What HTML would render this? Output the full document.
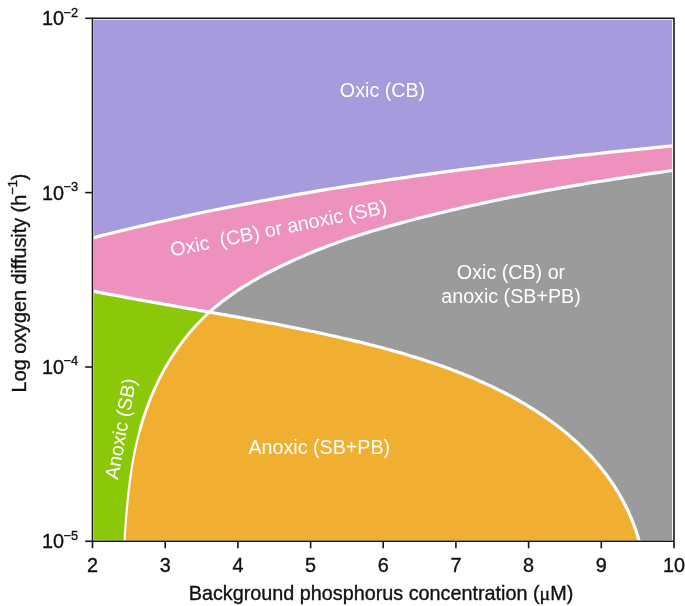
<!DOCTYPE html>
<html><head><meta charset="utf-8"><title>Phase diagram</title>
<style>
html,body{margin:0;padding:0;background:#fff;}
body{width:685px;height:606px;overflow:hidden;}
svg{display:block;font-family:"Liberation Sans",sans-serif;}
.ax{font-size:19.8px;fill:#111;stroke:#111;stroke-width:0.35px;}
.sup{font-size:12.8px;}
.lab{font-size:19.7px;fill:#fff;}
</style></head><body>
<svg width="685" height="606" viewBox="0 0 685 606">
<defs><clipPath id="cp"><rect x="94.0" y="19.4" width="578.3" height="520.9"/></clipPath></defs>
<rect width="685" height="606" fill="#fff"/>
<g clip-path="url(#cp)">
<rect x="94.0" y="19.4" width="578.3" height="520.9" fill="#fff"/>
<path d="M94.0,19.4 L672.3,19.4 L672.3,145.9 L672.5,145.9 665.1,146.6 657.7,147.4 650.3,148.1 642.9,148.9 635.5,149.6 628.1,150.4 620.7,151.2 613.3,151.9 605.9,152.7 598.5,153.5 591.1,154.3 583.7,155.1 576.3,155.9 568.9,156.8 561.5,157.6 554.1,158.4 546.7,159.3 539.3,160.1 532.0,161.0 524.6,161.9 517.2,162.8 509.8,163.6 502.4,164.5 495.0,165.5 487.6,166.4 480.2,167.3 472.9,168.3 465.5,169.2 458.1,170.2 450.7,171.1 443.3,172.1 436.0,173.1 428.6,174.1 421.2,175.2 413.8,176.2 406.5,177.3 399.1,178.3 391.7,179.4 384.4,180.5 377.0,181.6 369.7,182.7 362.3,183.8 355.0,185.0 347.6,186.1 340.3,187.3 332.9,188.5 325.6,189.7 318.2,190.9 310.9,192.2 303.6,193.4 296.2,194.7 288.9,196.0 281.6,197.3 274.3,198.6 267.0,200.0 259.6,201.3 252.3,202.7 245.0,204.1 237.7,205.5 230.4,206.9 223.1,208.4 215.8,209.8 208.5,211.3 201.3,212.8 194.0,214.3 186.7,215.9 179.4,217.5 172.2,219.0 164.9,220.7 157.6,222.3 150.4,223.9 143.1,225.6 135.9,227.3 128.6,229.0 121.4,230.7 114.2,232.5 106.9,234.3 99.7,236.1 92.5,237.9 L94.0,237.9 Z" fill="#a59bdd"/>
<path d="M92.5,237.9 99.7,236.1 106.9,234.3 114.2,232.5 121.4,230.7 128.6,229.0 135.9,227.3 143.1,225.6 150.4,223.9 157.6,222.3 164.9,220.7 172.2,219.0 179.4,217.5 186.7,215.9 194.0,214.3 201.3,212.8 208.5,211.3 215.8,209.8 223.1,208.4 230.4,206.9 237.7,205.5 245.0,204.1 252.3,202.7 259.6,201.3 267.0,200.0 274.3,198.6 281.6,197.3 288.9,196.0 296.2,194.7 303.6,193.4 310.9,192.2 318.2,190.9 325.6,189.7 332.9,188.5 340.3,187.3 347.6,186.1 355.0,185.0 362.3,183.8 369.7,182.7 377.0,181.6 384.4,180.5 391.7,179.4 399.1,178.3 406.5,177.3 413.8,176.2 421.2,175.2 428.6,174.1 436.0,173.1 443.3,172.1 450.7,171.1 458.1,170.2 465.5,169.2 472.9,168.3 480.2,167.3 487.6,166.4 495.0,165.5 502.4,164.5 509.8,163.6 517.2,162.8 524.6,161.9 532.0,161.0 539.3,160.1 546.7,159.3 554.1,158.4 561.5,157.6 568.9,156.8 576.3,155.9 583.7,155.1 591.1,154.3 598.5,153.5 605.9,152.7 613.3,151.9 620.7,151.2 628.1,150.4 635.5,149.6 642.9,148.9 650.3,148.1 657.7,147.4 665.1,146.6 672.5,145.9 L672.4,170.5 668.8,171.0 665.1,171.5 661.4,172.1 657.7,172.6 654.1,173.1 650.4,173.7 646.7,174.2 643.0,174.7 639.4,175.3 635.7,175.8 632.0,176.4 628.3,176.9 624.6,177.5 621.0,178.1 617.3,178.6 613.6,179.2 609.9,179.8 606.3,180.4 602.6,181.0 598.9,181.5 595.2,182.1 591.5,182.7 587.9,183.3 584.2,184.0 580.5,184.6 576.8,185.2 573.2,185.8 569.5,186.4 565.8,187.1 562.1,187.7 558.5,188.4 554.8,189.0 551.1,189.7 547.4,190.4 543.8,191.0 540.1,191.7 536.4,192.4 532.8,193.1 529.1,193.8 525.4,194.5 521.8,195.2 518.1,195.9 514.5,196.6 510.8,197.3 507.1,198.1 503.5,198.8 499.8,199.6 496.2,200.3 492.5,201.1 488.9,201.8 485.3,202.6 481.6,203.4 478.0,204.2 474.3,205.0 470.7,205.8 467.1,206.6 463.4,207.4 459.8,208.2 456.2,209.1 452.5,209.9 448.9,210.8 445.3,211.6 441.7,212.5 438.1,213.4 434.4,214.3 430.8,215.2 427.2,216.1 423.6,217.0 420.0,217.9 416.4,218.8 412.8,219.8 409.2,220.7 405.6,221.7 402.1,222.6 398.5,223.6 394.9,224.6 391.3,225.6 387.7,226.6 384.2,227.6 380.6,228.6 377.1,229.7 373.5,230.7 369.9,231.8 366.4,232.9 362.9,234.0 359.3,235.1 355.8,236.3 352.3,237.4 348.7,238.6 345.2,239.8 341.7,241.0 338.2,242.2 334.7,243.5 331.2,244.8 327.7,246.1 324.3,247.4 320.8,248.8 317.3,250.1 313.9,251.5 310.4,253.0 307.0,254.4 303.5,255.9 300.1,257.4 296.7,258.9 293.3,260.4 289.9,262.0 286.5,263.6 283.1,265.2 279.7,266.8 276.3,268.5 273.0,270.2 269.6,271.9 266.3,273.7 263.0,275.4 259.7,277.2 256.4,279.1 253.1,280.9 249.9,282.8 246.7,284.8 243.5,286.7 240.4,288.7 237.2,290.8 234.1,292.9 231.1,295.0 228.0,297.2 225.0,299.4 222.1,301.6 219.2,303.9 216.3,306.2 213.4,308.6 210.7,311.1 L208.3,311.9 205.2,311.4 202.1,310.8 199.0,310.3 195.9,309.7 192.7,309.2 189.6,308.7 186.5,308.1 183.4,307.6 180.3,307.0 177.1,306.5 174.0,305.9 170.9,305.4 167.8,304.8 164.6,304.3 161.5,303.7 158.4,303.2 155.3,302.6 152.1,302.1 149.0,301.5 145.9,301.0 142.7,300.4 139.6,299.8 136.5,299.3 133.4,298.7 130.2,298.1 127.1,297.6 124.0,297.0 120.8,296.4 117.7,295.8 114.6,295.2 111.4,294.7 108.3,294.1 105.1,293.5 102.0,292.9 98.9,292.3 95.7,291.6 92.6,291.0 Z" fill="#ee91be"/>
<path d="M92.6,291.0 95.7,291.6 98.9,292.3 102.0,292.9 105.1,293.5 108.3,294.1 111.4,294.7 114.6,295.2 117.7,295.8 120.8,296.4 124.0,297.0 127.1,297.6 130.2,298.1 133.4,298.7 136.5,299.3 139.6,299.8 142.7,300.4 145.9,301.0 149.0,301.5 152.1,302.1 155.3,302.6 158.4,303.2 161.5,303.7 164.6,304.3 167.8,304.8 170.9,305.4 174.0,305.9 177.1,306.5 180.3,307.0 183.4,307.6 186.5,308.1 189.6,308.7 192.7,309.2 195.9,309.7 199.0,310.3 202.1,310.8 205.2,311.4 208.3,311.9 L210.7,311.1 207.9,313.5 205.2,316.1 202.6,318.6 200.0,321.3 197.4,323.9 194.9,326.7 192.5,329.4 190.0,332.2 187.7,335.0 185.4,337.9 183.1,340.8 180.9,343.8 178.7,346.8 176.6,349.8 174.5,352.9 172.4,356.0 170.5,359.1 168.5,362.3 166.6,365.5 164.8,368.7 163.0,372.0 161.2,375.3 159.5,378.6 157.9,381.9 156.3,385.3 154.7,388.7 153.2,392.1 151.7,395.5 150.3,399.0 148.9,402.4 147.6,405.9 146.3,409.4 145.1,413.0 143.9,416.5 142.8,420.1 141.7,423.6 140.7,427.2 139.7,430.8 138.7,434.4 137.8,438.0 136.9,441.7 136.1,445.3 135.3,448.9 134.5,452.6 133.8,456.3 133.2,459.9 132.5,463.6 131.9,467.3 131.3,471.0 130.8,474.7 130.2,478.4 129.7,482.1 129.3,485.8 128.8,489.5 128.4,493.2 128.0,496.9 127.6,500.6 127.3,504.3 126.9,508.0 126.6,511.7 126.3,515.5 126.0,519.2 125.7,522.8 125.5,526.5 125.2,530.2 125.0,533.9 124.8,537.6 124.6,541.3 L94.0,540.3 Z" fill="#8cc80a"/>
<path d="M124.6,541.3 124.8,537.6 125.0,533.9 125.2,530.2 125.5,526.5 125.7,522.8 126.0,519.2 126.3,515.5 126.6,511.7 126.9,508.0 127.3,504.3 127.6,500.6 128.0,496.9 128.4,493.2 128.8,489.5 129.3,485.8 129.7,482.1 130.2,478.4 130.8,474.7 131.3,471.0 131.9,467.3 132.5,463.6 133.2,459.9 133.8,456.3 134.5,452.6 135.3,448.9 136.1,445.3 136.9,441.7 137.8,438.0 138.7,434.4 139.7,430.8 140.7,427.2 141.7,423.6 142.8,420.1 143.9,416.5 145.1,413.0 146.3,409.4 147.6,405.9 148.9,402.4 150.3,399.0 151.7,395.5 153.2,392.1 154.7,388.7 156.3,385.3 157.9,381.9 159.5,378.6 161.2,375.3 163.0,372.0 164.8,368.7 166.6,365.5 168.5,362.3 170.5,359.1 172.4,356.0 174.5,352.9 176.6,349.8 178.7,346.8 180.9,343.8 183.1,340.8 185.4,337.9 187.7,335.0 190.0,332.2 192.5,329.4 194.9,326.7 197.4,323.9 200.0,321.3 202.6,318.6 205.2,316.1 207.9,313.5 210.7,311.1 L208.3,311.9 211.5,312.5 214.6,313.0 217.7,313.6 220.8,314.1 223.9,314.7 227.0,315.2 230.2,315.8 233.3,316.3 236.4,316.9 239.5,317.4 242.6,318.0 245.7,318.6 248.8,319.1 252.0,319.7 255.1,320.3 258.2,320.8 261.3,321.4 264.4,322.0 267.5,322.6 270.6,323.2 273.7,323.7 276.8,324.3 279.9,324.9 283.0,325.5 286.2,326.1 289.3,326.8 292.4,327.4 295.5,328.0 298.6,328.6 301.7,329.2 304.8,329.9 307.9,330.5 311.0,331.2 314.1,331.8 317.2,332.5 320.3,333.1 323.4,333.8 326.5,334.5 329.6,335.2 332.7,335.9 335.8,336.5 338.9,337.2 342.0,338.0 345.1,338.7 348.2,339.4 351.3,340.1 354.4,340.9 357.5,341.6 360.6,342.3 363.7,343.1 366.8,343.9 369.9,344.7 373.0,345.4 376.1,346.2 379.2,347.0 382.3,347.8 385.4,348.7 388.5,349.5 391.6,350.4 394.6,351.2 397.7,352.1 400.8,352.9 403.9,353.8 406.9,354.7 410.0,355.7 413.1,356.6 416.1,357.5 419.2,358.5 422.2,359.4 425.3,360.4 428.3,361.4 431.3,362.4 434.4,363.4 437.4,364.5 440.4,365.5 443.4,366.6 446.4,367.7 449.4,368.8 452.4,369.9 455.4,371.0 458.3,372.2 461.3,373.3 464.3,374.5 467.2,375.7 470.2,376.9 473.1,378.1 476.0,379.4 478.9,380.7 481.8,381.9 484.7,383.3 487.6,384.6 490.5,385.9 493.4,387.3 496.2,388.7 499.1,390.1 501.9,391.5 504.8,393.0 507.6,394.4 510.4,395.9 513.2,397.4 516.0,399.0 518.7,400.5 521.5,402.1 524.3,403.7 527.0,405.3 529.7,407.0 532.4,408.6 535.1,410.3 537.7,412.1 540.4,413.8 543.0,415.6 545.6,417.4 548.2,419.2 550.8,421.0 553.3,422.9 555.9,424.7 558.4,426.7 560.8,428.6 563.3,430.6 565.7,432.5 568.2,434.6 570.5,436.6 572.9,438.7 575.2,440.7 577.6,442.9 579.8,445.0 582.1,447.2 584.3,449.4 586.5,451.6 588.7,453.9 590.9,456.1 593.0,458.5 595.0,460.8 597.1,463.2 599.1,465.5 601.1,468.0 603.0,470.4 605.0,472.9 606.9,475.4 608.7,478.0 610.5,480.5 612.3,483.1 614.0,485.7 615.7,488.4 617.4,491.1 619.0,493.8 620.6,496.6 622.2,499.4 623.7,502.2 625.1,505.0 626.6,507.9 628.0,510.8 629.3,513.7 630.6,516.7 631.8,519.7 633.1,522.8 634.2,525.8 635.3,528.9 636.4,532.1 637.5,535.2 638.4,538.4 639.4,541.7 Z" fill="#f1af32"/>
<path d="M210.7,311.1 213.4,308.6 216.3,306.2 219.2,303.9 222.1,301.6 225.0,299.4 228.0,297.2 231.1,295.0 234.1,292.9 237.2,290.8 240.4,288.7 243.5,286.7 246.7,284.8 249.9,282.8 253.1,280.9 256.4,279.1 259.7,277.2 263.0,275.4 266.3,273.7 269.6,271.9 273.0,270.2 276.3,268.5 279.7,266.8 283.1,265.2 286.5,263.6 289.9,262.0 293.3,260.4 296.7,258.9 300.1,257.4 303.5,255.9 307.0,254.4 310.4,253.0 313.9,251.5 317.3,250.1 320.8,248.8 324.3,247.4 327.7,246.1 331.2,244.8 334.7,243.5 338.2,242.2 341.7,241.0 345.2,239.8 348.7,238.6 352.3,237.4 355.8,236.3 359.3,235.1 362.9,234.0 366.4,232.9 369.9,231.8 373.5,230.7 377.1,229.7 380.6,228.6 384.2,227.6 387.7,226.6 391.3,225.6 394.9,224.6 398.5,223.6 402.1,222.6 405.6,221.7 409.2,220.7 412.8,219.8 416.4,218.8 420.0,217.9 423.6,217.0 427.2,216.1 430.8,215.2 434.4,214.3 438.1,213.4 441.7,212.5 445.3,211.6 448.9,210.8 452.5,209.9 456.2,209.1 459.8,208.2 463.4,207.4 467.1,206.6 470.7,205.8 474.3,205.0 478.0,204.2 481.6,203.4 485.3,202.6 488.9,201.8 492.5,201.1 496.2,200.3 499.8,199.6 503.5,198.8 507.1,198.1 510.8,197.3 514.5,196.6 518.1,195.9 521.8,195.2 525.4,194.5 529.1,193.8 532.8,193.1 536.4,192.4 540.1,191.7 543.8,191.0 547.4,190.4 551.1,189.7 554.8,189.0 558.5,188.4 562.1,187.7 565.8,187.1 569.5,186.4 573.2,185.8 576.8,185.2 580.5,184.6 584.2,184.0 587.9,183.3 591.5,182.7 595.2,182.1 598.9,181.5 602.6,181.0 606.3,180.4 609.9,179.8 613.6,179.2 617.3,178.6 621.0,178.1 624.6,177.5 628.3,176.9 632.0,176.4 635.7,175.8 639.4,175.3 643.0,174.7 646.7,174.2 650.4,173.7 654.1,173.1 657.7,172.6 661.4,172.1 665.1,171.5 668.8,171.0 672.4,170.5 L672.3,540.3 L639.4,541.7 638.4,538.4 637.5,535.2 636.4,532.1 635.3,528.9 634.2,525.8 633.1,522.8 631.8,519.7 630.6,516.7 629.3,513.7 628.0,510.8 626.6,507.9 625.1,505.0 623.7,502.2 622.2,499.4 620.6,496.6 619.0,493.8 617.4,491.1 615.7,488.4 614.0,485.7 612.3,483.1 610.5,480.5 608.7,478.0 606.9,475.4 605.0,472.9 603.0,470.4 601.1,468.0 599.1,465.5 597.1,463.2 595.0,460.8 593.0,458.5 590.9,456.1 588.7,453.9 586.5,451.6 584.3,449.4 582.1,447.2 579.8,445.0 577.6,442.9 575.2,440.7 572.9,438.7 570.5,436.6 568.2,434.6 565.7,432.5 563.3,430.6 560.8,428.6 558.4,426.7 555.9,424.7 553.3,422.9 550.8,421.0 548.2,419.2 545.6,417.4 543.0,415.6 540.4,413.8 537.7,412.1 535.1,410.3 532.4,408.6 529.7,407.0 527.0,405.3 524.3,403.7 521.5,402.1 518.7,400.5 516.0,399.0 513.2,397.4 510.4,395.9 507.6,394.4 504.8,393.0 501.9,391.5 499.1,390.1 496.2,388.7 493.4,387.3 490.5,385.9 487.6,384.6 484.7,383.3 481.8,381.9 478.9,380.7 476.0,379.4 473.1,378.1 470.2,376.9 467.2,375.7 464.3,374.5 461.3,373.3 458.3,372.2 455.4,371.0 452.4,369.9 449.4,368.8 446.4,367.7 443.4,366.6 440.4,365.5 437.4,364.5 434.4,363.4 431.3,362.4 428.3,361.4 425.3,360.4 422.2,359.4 419.2,358.5 416.1,357.5 413.1,356.6 410.0,355.7 406.9,354.7 403.9,353.8 400.8,352.9 397.7,352.1 394.6,351.2 391.6,350.4 388.5,349.5 385.4,348.7 382.3,347.8 379.2,347.0 376.1,346.2 373.0,345.4 369.9,344.7 366.8,343.9 363.7,343.1 360.6,342.3 357.5,341.6 354.4,340.9 351.3,340.1 348.2,339.4 345.1,338.7 342.0,338.0 338.9,337.2 335.8,336.5 332.7,335.9 329.6,335.2 326.5,334.5 323.4,333.8 320.3,333.1 317.2,332.5 314.1,331.8 311.0,331.2 307.9,330.5 304.8,329.9 301.7,329.2 298.6,328.6 295.5,328.0 292.4,327.4 289.3,326.8 286.2,326.1 283.0,325.5 279.9,324.9 276.8,324.3 273.7,323.7 270.6,323.2 267.5,322.6 264.4,322.0 261.3,321.4 258.2,320.8 255.1,320.3 252.0,319.7 248.8,319.1 245.7,318.6 242.6,318.0 239.5,317.4 236.4,316.9 233.3,316.3 230.2,315.8 227.0,315.2 223.9,314.7 220.8,314.1 217.7,313.6 214.6,313.0 211.5,312.5 208.3,311.9 Z" fill="#9b9b9b"/>
<g fill="none" stroke="#fff" stroke-width="3.2" stroke-linejoin="round">
<polyline points="92.5,237.9 99.7,236.1 106.9,234.3 114.2,232.5 121.4,230.7 128.6,229.0 135.9,227.3 143.1,225.6 150.4,223.9 157.6,222.3 164.9,220.7 172.2,219.0 179.4,217.5 186.7,215.9 194.0,214.3 201.3,212.8 208.5,211.3 215.8,209.8 223.1,208.4 230.4,206.9 237.7,205.5 245.0,204.1 252.3,202.7 259.6,201.3 267.0,200.0 274.3,198.6 281.6,197.3 288.9,196.0 296.2,194.7 303.6,193.4 310.9,192.2 318.2,190.9 325.6,189.7 332.9,188.5 340.3,187.3 347.6,186.1 355.0,185.0 362.3,183.8 369.7,182.7 377.0,181.6 384.4,180.5 391.7,179.4 399.1,178.3 406.5,177.3 413.8,176.2 421.2,175.2 428.6,174.1 436.0,173.1 443.3,172.1 450.7,171.1 458.1,170.2 465.5,169.2 472.9,168.3 480.2,167.3 487.6,166.4 495.0,165.5 502.4,164.5 509.8,163.6 517.2,162.8 524.6,161.9 532.0,161.0 539.3,160.1 546.7,159.3 554.1,158.4 561.5,157.6 568.9,156.8 576.3,155.9 583.7,155.1 591.1,154.3 598.5,153.5 605.9,152.7 613.3,151.9 620.7,151.2 628.1,150.4 635.5,149.6 642.9,148.9 650.3,148.1 657.7,147.4 665.1,146.6 672.5,145.9"/>
<polyline points="210.7,311.1 213.4,308.6 216.3,306.2 219.2,303.9 222.1,301.6 225.0,299.4 228.0,297.2 231.1,295.0 234.1,292.9 237.2,290.8 240.4,288.7 243.5,286.7 246.7,284.8 249.9,282.8 253.1,280.9 256.4,279.1 259.7,277.2 263.0,275.4 266.3,273.7 269.6,271.9 273.0,270.2 276.3,268.5 279.7,266.8 283.1,265.2 286.5,263.6 289.9,262.0 293.3,260.4 296.7,258.9 300.1,257.4 303.5,255.9 307.0,254.4 310.4,253.0 313.9,251.5 317.3,250.1 320.8,248.8 324.3,247.4 327.7,246.1 331.2,244.8 334.7,243.5 338.2,242.2 341.7,241.0 345.2,239.8 348.7,238.6 352.3,237.4 355.8,236.3 359.3,235.1 362.9,234.0 366.4,232.9 369.9,231.8 373.5,230.7 377.1,229.7 380.6,228.6 384.2,227.6 387.7,226.6 391.3,225.6 394.9,224.6 398.5,223.6 402.1,222.6 405.6,221.7 409.2,220.7 412.8,219.8 416.4,218.8 420.0,217.9 423.6,217.0 427.2,216.1 430.8,215.2 434.4,214.3 438.1,213.4 441.7,212.5 445.3,211.6 448.9,210.8 452.5,209.9 456.2,209.1 459.8,208.2 463.4,207.4 467.1,206.6 470.7,205.8 474.3,205.0 478.0,204.2 481.6,203.4 485.3,202.6 488.9,201.8 492.5,201.1 496.2,200.3 499.8,199.6 503.5,198.8 507.1,198.1 510.8,197.3 514.5,196.6 518.1,195.9 521.8,195.2 525.4,194.5 529.1,193.8 532.8,193.1 536.4,192.4 540.1,191.7 543.8,191.0 547.4,190.4 551.1,189.7 554.8,189.0 558.5,188.4 562.1,187.7 565.8,187.1 569.5,186.4 573.2,185.8 576.8,185.2 580.5,184.6 584.2,184.0 587.9,183.3 591.5,182.7 595.2,182.1 598.9,181.5 602.6,181.0 606.3,180.4 609.9,179.8 613.6,179.2 617.3,178.6 621.0,178.1 624.6,177.5 628.3,176.9 632.0,176.4 635.7,175.8 639.4,175.3 643.0,174.7 646.7,174.2 650.4,173.7 654.1,173.1 657.7,172.6 661.4,172.1 665.1,171.5 668.8,171.0 672.4,170.5"/>
<polyline points="139.7,430.8 140.7,427.2 141.7,423.6 142.8,420.1 143.9,416.5 145.1,413.0 146.3,409.4 147.6,405.9 148.9,402.4 150.3,399.0 151.7,395.5 153.2,392.1 154.7,388.7 156.3,385.3 157.9,381.9 159.5,378.6 161.2,375.3 163.0,372.0 164.8,368.7 166.6,365.5 168.5,362.3 170.5,359.1 172.4,356.0 174.5,352.9 176.6,349.8 178.7,346.8 180.9,343.8 183.1,340.8 185.4,337.9 187.7,335.0 190.0,332.2 192.5,329.4 194.9,326.7 197.4,323.9 200.0,321.3 202.6,318.6 205.2,316.1 207.9,313.5 210.7,311.1" stroke-width="2.8"/>
<polyline points="124.6,541.3 124.8,537.6 125.0,533.9 125.2,530.2 125.5,526.5 125.7,522.8 126.0,519.2 126.3,515.5 126.6,511.7 126.9,508.0 127.3,504.3 127.6,500.6 128.0,496.9 128.4,493.2 128.8,489.5 129.3,485.8 129.7,482.1 130.2,478.4 130.8,474.7 131.3,471.0 131.9,467.3 132.5,463.6 133.2,459.9 133.8,456.3 134.5,452.6 135.3,448.9 136.1,445.3 136.9,441.7 137.8,438.0 138.7,434.4 139.7,430.8" stroke-width="2.2"/>
<polyline points="92.6,291.0 95.7,291.6 98.9,292.3 102.0,292.9 105.1,293.5 108.3,294.1 111.4,294.7 114.6,295.2 117.7,295.8 120.8,296.4 124.0,297.0 127.1,297.6 130.2,298.1 133.4,298.7 136.5,299.3 139.6,299.8 142.7,300.4 145.9,301.0 149.0,301.5 152.1,302.1 155.3,302.6 158.4,303.2 161.5,303.7 164.6,304.3 167.8,304.8 170.9,305.4 174.0,305.9 177.1,306.5 180.3,307.0 183.4,307.6 186.5,308.1 189.6,308.7 192.7,309.2 195.9,309.7 199.0,310.3 202.1,310.8 205.2,311.4 208.3,311.9 211.5,312.5 214.6,313.0 217.7,313.6 220.8,314.1 223.9,314.7 227.0,315.2 230.2,315.8 233.3,316.3 236.4,316.9 239.5,317.4 242.6,318.0 245.7,318.6 248.8,319.1 252.0,319.7 255.1,320.3 258.2,320.8 261.3,321.4 264.4,322.0 267.5,322.6 270.6,323.2 273.7,323.7 276.8,324.3 279.9,324.9 283.0,325.5 286.2,326.1 289.3,326.8 292.4,327.4 295.5,328.0 298.6,328.6 301.7,329.2 304.8,329.9 307.9,330.5 311.0,331.2 314.1,331.8 317.2,332.5 320.3,333.1 323.4,333.8 326.5,334.5 329.6,335.2 332.7,335.9 335.8,336.5 338.9,337.2 342.0,338.0 345.1,338.7 348.2,339.4 351.3,340.1 354.4,340.9 357.5,341.6 360.6,342.3 363.7,343.1 366.8,343.9 369.9,344.7 373.0,345.4 376.1,346.2 379.2,347.0 382.3,347.8 385.4,348.7 388.5,349.5 391.6,350.4 394.6,351.2 397.7,352.1 400.8,352.9 403.9,353.8 406.9,354.7 410.0,355.7 413.1,356.6 416.1,357.5 419.2,358.5 422.2,359.4 425.3,360.4 428.3,361.4 431.3,362.4 434.4,363.4 437.4,364.5 440.4,365.5 443.4,366.6 446.4,367.7 449.4,368.8 452.4,369.9 455.4,371.0 458.3,372.2 461.3,373.3 464.3,374.5 467.2,375.7 470.2,376.9 473.1,378.1 476.0,379.4 478.9,380.7 481.8,381.9 484.7,383.3 487.6,384.6 490.5,385.9 493.4,387.3 496.2,388.7 499.1,390.1 501.9,391.5 504.8,393.0 507.6,394.4 510.4,395.9 513.2,397.4 516.0,399.0 518.7,400.5 521.5,402.1 524.3,403.7 527.0,405.3 529.7,407.0 532.4,408.6 535.1,410.3 537.7,412.1 540.4,413.8 543.0,415.6 545.6,417.4 548.2,419.2 550.8,421.0 553.3,422.9 555.9,424.7 558.4,426.7 560.8,428.6 563.3,430.6 565.7,432.5 568.2,434.6 570.5,436.6 572.9,438.7 575.2,440.7 577.6,442.9 579.8,445.0 582.1,447.2 584.3,449.4 586.5,451.6 588.7,453.9 590.9,456.1 593.0,458.5 595.0,460.8 597.1,463.2 599.1,465.5 601.1,468.0 603.0,470.4 605.0,472.9 606.9,475.4 608.7,478.0 610.5,480.5 612.3,483.1 614.0,485.7 615.7,488.4 617.4,491.1 619.0,493.8 620.6,496.6 622.2,499.4 623.7,502.2 625.1,505.0 626.6,507.9 628.0,510.8 629.3,513.7 630.6,516.7 631.8,519.7 633.1,522.8 634.2,525.8 635.3,528.9 636.4,532.1 637.5,535.2 638.4,538.4 639.4,541.7"/>
</g>
</g>
<g stroke="#151515" stroke-width="1.6" fill="none">
<path d="M92.5,18.3 H674.0 V541.3 H92.5 Z"/>
<path d="M85.2,18.3 H92.5"/>
<path d="M85.2,192.6 H92.5"/>
<path d="M85.2,367.0 H92.5"/>
<path d="M85.2,541.3 H92.5"/>
<path d="M92.5,541.3 V548.3"/>
<path d="M165.2,541.3 V548.3"/>
<path d="M237.9,541.3 V548.3"/>
<path d="M310.6,541.3 V548.3"/>
<path d="M383.2,541.3 V548.3"/>
<path d="M455.9,541.3 V548.3"/>
<path d="M528.6,541.3 V548.3"/>
<path d="M601.3,541.3 V548.3"/>
<path d="M674.0,541.3 V548.3"/>
</g>
<g class="ax">
<text x="42" y="25.4">10<tspan class="sup" dy="-8.8" dx="-0.5">−2</tspan></text>
<text x="42" y="199.7">10<tspan class="sup" dy="-8.8" dx="-0.5">−3</tspan></text>
<text x="42" y="374.1">10<tspan class="sup" dy="-8.8" dx="-0.5">−4</tspan></text>
<text x="42" y="548.4">10<tspan class="sup" dy="-8.8" dx="-0.5">−5</tspan></text>
<text x="92.5" y="572" text-anchor="middle">2</text>
<text x="165.2" y="572" text-anchor="middle">3</text>
<text x="237.9" y="572" text-anchor="middle">4</text>
<text x="310.6" y="572" text-anchor="middle">5</text>
<text x="383.2" y="572" text-anchor="middle">6</text>
<text x="455.9" y="572" text-anchor="middle">7</text>
<text x="528.6" y="572" text-anchor="middle">8</text>
<text x="601.3" y="572" text-anchor="middle">9</text>
<text x="674.0" y="572" text-anchor="middle">10</text>
<text x="381" y="600.4" text-anchor="middle">Background phosphorus concentration (<tspan font-family="'Liberation Serif','DejaVu Serif',serif">μ</tspan>M)</text>
<text transform="translate(25.6,283) rotate(-90)" text-anchor="middle">Log oxygen diffusity (h<tspan class="sup" dy="-8.8">−1</tspan><tspan dy="8.8">)</tspan></text>
</g>
<g class="lab">
<text x="382.5" y="96.7" text-anchor="middle">Oxic (CB)</text>
<text transform="translate(171.8,256.6) rotate(-11.4)" font-size="19.65" xml:space="preserve">Oxic  (CB) or anoxic (SB)</text>
<text x="511" y="279.3" text-anchor="middle">Oxic (CB) or</text>
<text x="511" y="303.4" text-anchor="middle">anoxic (SB+PB)</text>
<text x="319.3" y="453.5" text-anchor="middle">Anoxic (SB+PB)</text>
<text transform="translate(117.9,480.3) rotate(-79.7)" font-size="19.4">Anoxic (SB)</text>
</g>
</svg>
</body></html>
